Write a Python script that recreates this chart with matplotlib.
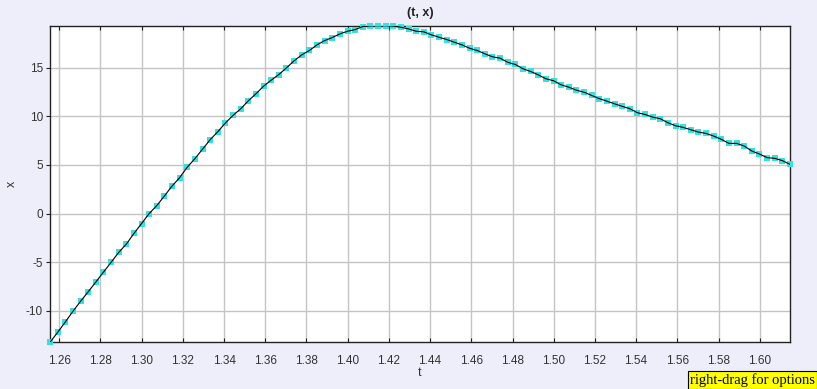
import numpy as np
import matplotlib
matplotlib.use("Agg")
import matplotlib.pyplot as plt

# sample times (evenly sampled trace)
T_START = 1.2555
T_END = 1.6147
N_SAMPLES = 98

# x values, in sample order
x_rise = [-13.24, -12.22, -11.16, -10.06, -9.03, -8.05, -7.05, -6.03, -5.03, -4.0,
          -3.15, -2.05, -1.03, 0.0, 0.82, 1.81, 2.83, 3.70, 4.78, 5.65,
          6.63, 7.60, 8.42, 9.32, 10.10, 10.78]
x_peak = [11.60, 12.32, 13.10, 13.72, 14.30, 14.99, 15.71, 16.32, 16.77, 17.35,
          17.79, 18.10, 18.48, 18.75, 18.92, 19.23, 19.30, 19.32, 19.32, 19.28,
          19.16, 18.99, 18.75, 18.69, 18.38]
x_fall = [18.13, 17.90, 17.62, 17.35, 17.00, 16.77, 16.43, 16.12, 15.98, 15.56,
          15.33, 14.89, 14.61, 14.27, 13.86, 13.66, 13.24, 13.00, 12.69, 12.48,
          12.15, 11.82]
x_tail = [11.56, 11.29, 11.03, 10.78, 10.37, 10.19, 9.92, 9.75, 9.34, 9.03,
          8.86, 8.62, 8.38, 8.24, 7.97, 7.63, 7.22, 7.22, 6.94, 6.43,
          6.12, 5.75, 5.68, 5.44, 5.06]

x_ticks = [1.26, 1.28, 1.30, 1.32, 1.34, 1.36, 1.38, 1.40, 1.42, 1.44,
           1.46, 1.48, 1.50, 1.52, 1.54, 1.56, 1.58, 1.60]
y_ticks = [-10, -5, 0, 5, 10, 15]

BG = '#EEEEFA'
INK = '#333333'

t = np.linspace(T_START, T_END, N_SAMPLES)
x = np.array(x_rise + x_peak + x_fall + x_tail)

plt.rcParams['font.family'] = ['Liberation Sans', 'DejaVu Sans']
plt.rcParams['axes.unicode_minus'] = False

W, H = 817, 389
fig = plt.figure(figsize=(W / 100, H / 100), dpi=100, facecolor=BG)
ax = fig.add_axes([50 / W, (H - 342.3) / H, (790 - 50) / W, (342.3 - 25.7) / H])
ax.set_facecolor('white')

ax.plot(t, x, linestyle='none', marker='s', markersize=4.6, markeredgewidth=0,
        markerfacecolor='#35E2E2', zorder=4, clip_on=False)
ax.plot(t, x, color='black', linewidth=0.8, zorder=5)

ax.set_xlim(T_START, T_END)
ax.set_ylim(min(x), max(x))
ax.set_xticks(x_ticks)
ax.set_xticklabels([f"{v:.2f}" for v in x_ticks])
ax.set_yticks(y_ticks)

ax.grid(True, color='#C4C4C4', linewidth=1.0)
ax.set_axisbelow(True)
for s in ax.spines.values():
    s.set_color('#222222')
    s.set_linewidth(1.0)
    s.set_zorder(3)

ax.tick_params(axis='x', direction='in', top=True, bottom=True, length=3,
               pad=9, labelsize=8.5, labelcolor=INK, color='#222222')
ax.tick_params(axis='y', direction='out', left=True, right=False, length=3,
               pad=2, labelsize=8.5, labelcolor=INK, color='#222222')

ax.set_title('(t, x)', fontsize=9, fontweight='bold', color='#222222', pad=7)
ax.set_xlabel('t', fontsize=9, color=INK, labelpad=0)
ax.set_ylabel('x', fontsize=9, color=INK, labelpad=6)

fig.text(815 / W, 2 / H, 'right-drag for options', ha='right', va='bottom',
         fontsize=10.5, family='Liberation Serif', color='black',
         bbox=dict(boxstyle='square,pad=0.15', facecolor='#FFFF00',
                   edgecolor='black', linewidth=0.8))

fig.savefig('out.png', dpi=100, facecolor=BG)
